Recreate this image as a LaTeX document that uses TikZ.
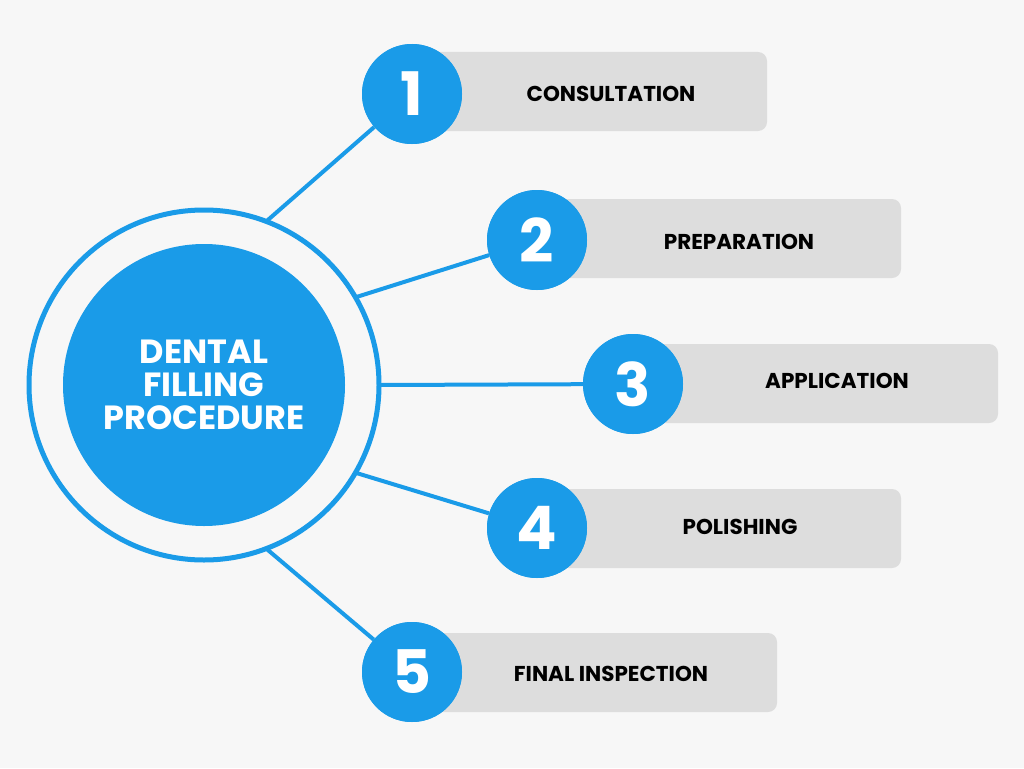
\documentclass[tikz,border=0pt]{standalone}
\usepackage{fontspec}
\usetikzlibrary{calc}
\setmainfont{Poppins}[BoldFont=* Bold]
\begin{document}
\begin{tikzpicture}[x=1pt,y=-1pt]
\definecolor{bl}{HTML}{1A9BE8}
\definecolor{bg}{HTML}{F7F7F7}
\definecolor{gr}{HTML}{DDDDDD}
\tikzset{num/.style={circle,fill=bl,minimum size=100pt,inner sep=0pt,text=white,font=\bfseries\fontsize{60}{60}\selectfont},
box/.style={fill=gr,rounded corners=9pt},
lab/.style={font=\bfseries\fontsize{21.5}{21.5}\selectfont,text=black},
con/.style={draw=bl,line width=4pt}}
\fill[bg] (0,0) rectangle (1024,768);
\useasboundingbox (0,0) rectangle (1024,768);
\fill[box] (430,52) rectangle (767,131);
\fill[box] (555,199) rectangle (901,278);
\fill[box] (650,344) rectangle (998,423);
\fill[box] (555,489) rectangle (901,568);
\fill[box] (430,633) rectangle (777,712);
\node[lab] (t1) at (611,94) {CONSULTATION};
\node[lab] (t2) at (739,242) {PREPARATION};
\node[lab] (t3) at (837,381) {APPLICATION};
\node[lab] (t4) at (740,527) {POLISHING};
\node[lab] (t5) at (611,674) {FINAL INSPECTION};
\node[circle,draw=bl,line width=5pt,minimum size=350pt,inner sep=0pt] (ring) at (204,385) {};
\node[circle,fill=bl,minimum size=282pt,inner sep=0pt,text=white,align=center,font=\bfseries\fontsize{33.5}{33}\selectfont] (core) at (204,385) {DENTAL\\FILLING\\PROCEDURE};
\coordinate (a1) at ($(ring.center)+(-69:176)$);
\coordinate (a2) at ($(ring.center)+(-30:176)$);
\coordinate (a3) at ($(ring.center)+(0:176)$);
\coordinate (a4) at ($(ring.center)+(30:176)$);
\coordinate (a5) at ($(ring.center)+(69:176)$);
\node[num] (n1) at (412,94) {1};
\node[num] (n2) at (537,240) {2};
\node[num] (n3) at (633,384) {3};
\node[num] (n4) at (537,528) {4};
\node[num] (n5) at (412,672) {5};
\foreach \i in {1,...,5} \draw[con] (a\i) -- (n\i);
\foreach \i in {1,...,5} \node[num] at (n\i) {\i};
\end{tikzpicture}
\end{document}
